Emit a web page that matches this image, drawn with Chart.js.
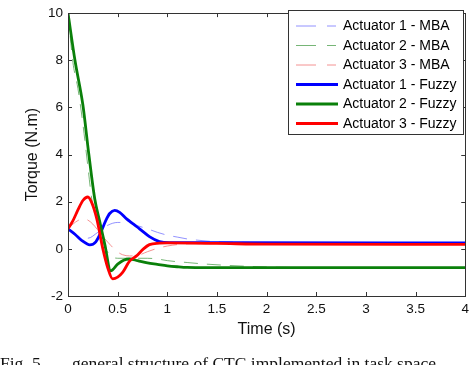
<!DOCTYPE html>
<html>
<head>
<meta charset="utf-8">
<script src="https://cdn.jsdelivr.net/npm/chart.js@4"></script>
<style>
body { margin: 0; background: #fff; overflow: hidden; }
#wrap { position: relative; width: 474px; height: 365px; overflow: hidden; }
#caption { position: absolute; left: 0; top: 355px; font-family: "Liberation Serif", serif; font-size: 17.5px; line-height: 1; white-space: nowrap; color: #111; }
#caption span { position: absolute; top: 0; }
</style>
</head>
<body>
<div id="wrap">
  <canvas id="myChart"></canvas>
  <div id="caption"><span style="left:0px">Fig. 5</span><span style="left:72px">general structure of CTC implemented in task space</span></div>
</div>
<script>
// time (s) and torque (N.m)
const t1m = [0, 0.1, 0.2, 0.3, 0.4, 0.5, 0.6, 0.7, 0.8, 0.9, 1.0, 1.1, 1.2, 1.3, 1.4, 1.5, 1.7, 2, 3, 4];
const v1m = [0.85, 0.5, 0.45, 0.7, 1.0, 1.12, 1.12, 0.98, 0.85, 0.7, 0.58, 0.5, 0.42, 0.37, 0.33, 0.3, 0.28, 0.26, 0.25, 0.25];

const t2m = [0, 0.05, 0.1, 0.15, 0.2, 0.24, 0.3, 0.35, 0.4, 0.45, 0.5, 0.6, 0.7, 0.8, 0.9, 1.0, 1.2, 1.4, 1.6, 1.8, 2, 3, 4];
const v2m = [10, 7.9, 6.8, 5.3, 3.5, 2.1, 1.1, 0.3, -0.15, -0.35, -0.4, -0.4, -0.4, -0.4, -0.43, -0.5, -0.58, -0.65, -0.7, -0.74, -0.77, -0.8, -0.8];

const t3m = [0, 0.05, 0.1, 0.15, 0.2, 0.25, 0.3, 0.37, 0.43, 0.49, 0.55, 0.62, 0.7, 0.8, 0.9, 1.0, 1.1, 1.2, 1.5, 2, 4];
const v3m = [0.85, 1.05, 1.2, 1.28, 1.22, 1.05, 0.8, 0.43, 0.15, -0.1, -0.25, -0.3, -0.28, -0.12, 0.02, 0.12, 0.18, 0.21, 0.22, 0.21, 0.2];

const t1f = [0, 0.07, 0.14, 0.22, 0.28, 0.33, 0.38, 0.42, 0.47, 0.52, 0.59, 0.66, 0.72, 0.82, 0.92, 1.02, 1.5, 4];
const v1f = [0.85, 0.62, 0.35, 0.17, 0.3, 0.7, 1.2, 1.5, 1.63, 1.55, 1.27, 1.05, 0.85, 0.52, 0.31, 0.26, 0.26, 0.25];

const t2f = [0, 0.07, 0.15, 0.21, 0.27, 0.32, 0.37, 0.43, 0.5, 0.56, 0.62, 0.7, 0.8, 0.9, 1.0, 1.1, 1.2, 1.4, 2, 3, 4];
const v2f = [10, 8.0, 6.1, 4.0, 2.1, 1.15, 0.2, -0.93, -0.65, -0.48, -0.43, -0.5, -0.6, -0.66, -0.72, -0.76, -0.79, -0.8, -0.8, -0.8, -0.8];

const t3f = [0, 0.05, 0.1, 0.15, 0.2, 0.24, 0.29, 0.35, 0.4, 0.45, 0.5, 0.55, 0.62, 0.69, 0.76, 0.82, 0.92, 1.0, 1.5, 2, 4];
const v3f = [0.85, 1.2, 1.65, 2.05, 2.2, 1.95, 1.27, 0.02, -0.8, -1.27, -1.2, -1.0, -0.52, -0.3, 0.0, 0.18, 0.24, 0.25, 0.23, 0.2, 0.19];

const labels = ['Actuator 1 - MBA', 'Actuator 2 - MBA', 'Actuator 3 - MBA',
                'Actuator 1 - Fuzzy', 'Actuator 2 - Fuzzy', 'Actuator 3 - Fuzzy'];
const xTicks = [0, 0.5, 1, 1.5, 2, 2.5, 3, 3.5, 4];
const yTicks = [-2, 0, 2, 4, 6, 8, 10];

const FONT = '"Liberation Sans", Arial, sans-serif';

function pts(t, v) {
    var list = [];
    for (var i = 0; i < t.length; i++) list.push({x: t[i], y: v[i]});
    return list;
}

function dset(label, t, v, color, width, dash, order) {
    return {
        label: label,
        data: pts(t, v),
        borderColor: color,
        borderWidth: width,
        borderDash: dash,
        pointRadius: 0,
        cubicInterpolationMode: 'monotone',
        fill: false,
        order: order
    };
}

// box, inward ticks and legend like matlab
const framePlugin = {
    id: 'frame',
    afterDatasetsDraw(chart) {
        const ctx = chart.ctx;
        const a = chart.chartArea;
        const xs = chart.scales.x, ys = chart.scales.y;
        const tl = 4;
        ctx.save();
        ctx.strokeStyle = '#333';
        ctx.lineWidth = 1;
        ctx.beginPath();
        xTicks.forEach(function (v) {
            const px = Math.round(xs.getPixelForValue(v)) + 0.5;
            ctx.moveTo(px, a.bottom); ctx.lineTo(px, a.bottom - tl);
            ctx.moveTo(px, a.top); ctx.lineTo(px, a.top + tl);
        });
        yTicks.forEach(function (v) {
            const py = Math.round(ys.getPixelForValue(v)) + 0.5;
            ctx.moveTo(a.left, py); ctx.lineTo(a.left + tl, py);
            ctx.moveTo(a.right, py); ctx.lineTo(a.right - tl, py);
        });
        ctx.stroke();
        ctx.strokeRect(Math.round(a.left) + 0.5, Math.round(a.top) + 0.5,
                       Math.round(a.right - a.left), Math.round(a.bottom - a.top));

        // legend
        const lx = 288, ly = 10, lw = 175, lh = 124;
        ctx.fillStyle = '#fff';
        ctx.fillRect(lx, ly, lw, lh);
        ctx.strokeRect(lx + 0.5, ly + 0.5, lw, lh);
        ctx.font = '14px ' + FONT;
        ctx.textBaseline = 'middle';
        ctx.textAlign = 'left';
        chart.data.datasets.forEach(function (ds, i) {
            const y = 26 + i * 19.5;
            ctx.strokeStyle = ds.borderColor;
            ctx.lineWidth = ds.borderWidth;
            ctx.setLineDash(ds.borderDash.length ? [20, 11] : []);
            ctx.beginPath();
            ctx.moveTo(296, y); ctx.lineTo(ds.borderDash.length ? 336 : 338, y);
            ctx.stroke();
            ctx.setLineDash([]);
            ctx.fillStyle = '#000';
            ctx.fillText(ds.label, 343, y + 0.5);
        });
        ctx.restore();
    }
};

function RenderChart() {
    const ctx = document.getElementById('myChart');
    const data = {
        datasets: [
            dset(labels[0], t1m, v1m, 'rgba(110,110,255,0.75)', 1, [14, 9], 9),
            dset(labels[1], t2m, v2m, 'rgba(60,150,60,0.7)', 1, [14, 9], 8),
            dset(labels[2], t3m, v3m, 'rgba(240,110,110,0.75)', 1, [14, 9], 7),
            dset(labels[3], t1f, v1f, '#0000ff', 2.8, [], 3),
            dset(labels[4], t2f, v2f, '#0a800a', 2.8, [], 2),
            dset(labels[5], t3f, v3f, '#ff0000', 2.8, [], 1)
        ]
    };
    const config = {
        type: 'line',
        data: data,
        options: {
            responsive: true,
            maintainAspectRatio: false,
            animation: false,
            layout: { padding: { top: 5, right: 5, left: 0, bottom: 0 } },
            plugins: { legend: { display: false }, tooltip: { enabled: false } },
            scales: {
                x: {
                    type: 'linear', min: 0, max: 4,
                    afterFit: function (s) { s.height = 69; },
                    grid: { display: false, drawTicks: false },
                    border: { display: false },
                    ticks: { stepSize: 0.5, padding: 5, color: '#111', font: { family: FONT, size: 13.5 },
                             callback: function (v) { return String(+v.toFixed(1)); } },
                    title: { display: true, text: 'Time (s)', color: '#111', padding: { top: 0, bottom: 26 }, font: { family: FONT, size: 16 } }
                },
                y: {
                    type: 'linear', min: -2, max: 10,
                    afterFit: function (s) { s.width = 68; },
                    grid: { display: false, drawTicks: false },
                    border: { display: false },
                    ticks: { stepSize: 2, padding: 5, color: '#111', font: { family: FONT, size: 13.5 } },
                    title: { display: true, text: 'Torque (N.m)', color: '#111', padding: { top: 23, bottom: 0 }, font: { family: FONT, size: 16 } }
                }
            }
        },
        plugins: [framePlugin]
    };
    new Chart(ctx, config);
}
RenderChart();
</script>
</body>
</html>
